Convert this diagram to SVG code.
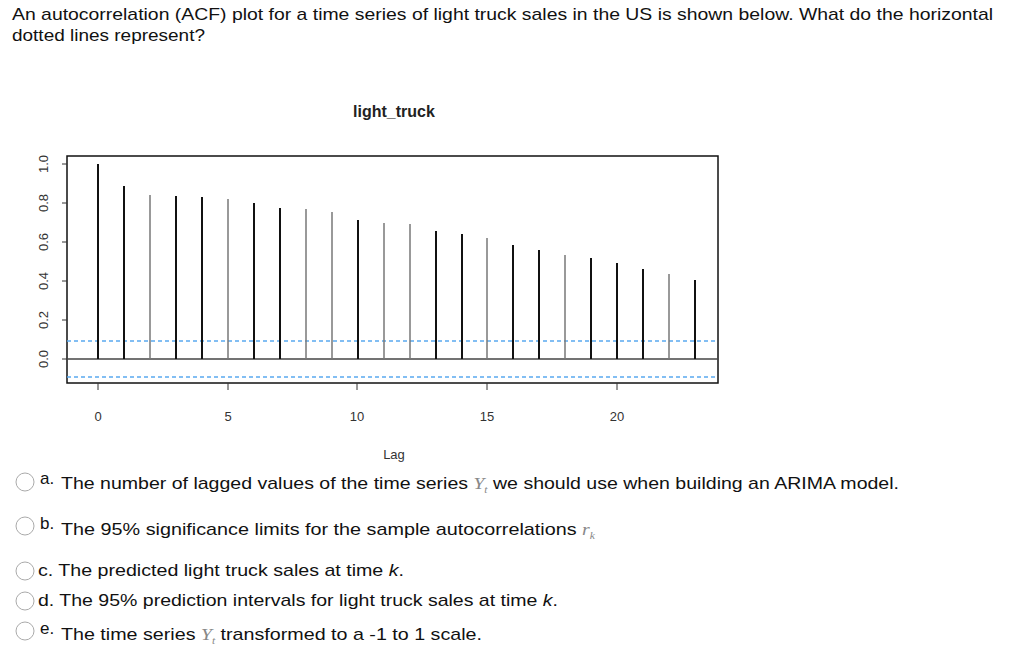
<svg xmlns="http://www.w3.org/2000/svg" width="1024" height="655" viewBox="0 0 1024 655">
<style>
.q{font-family:"Liberation Sans",Arial,sans-serif;font-size:17px;fill:#111}
.ax{font-family:"Liberation Sans",Arial,sans-serif;font-size:13px;fill:#333}
.bar{stroke:#111;stroke-width:2}
.bar2{stroke:#777;stroke-width:1.5}
.ci{stroke:#5aa9f0;stroke-width:1.5;stroke-dasharray:4 3}
.rad{fill:#fff;stroke:#aaa;stroke-width:1}
</style>
<rect width="1024" height="655" fill="#fff"/>
<text class="q" x="12" y="20" textLength="981" lengthAdjust="spacingAndGlyphs">An autocorrelation (ACF) plot for a time series of light truck sales in the US is shown below. What do the horizontal</text>
<text class="q" x="12" y="41" textLength="193" lengthAdjust="spacingAndGlyphs">dotted lines represent?</text>
<g id="plot">
<text x="394" y="117" text-anchor="middle" font-family="Liberation Sans,Arial,sans-serif" font-size="16" font-weight="bold" fill="#222">light_truck</text>
<rect x="67" y="156" width="651" height="227" fill="none" stroke="#111" stroke-width="1.5"/>
<g stroke="#333">
<line x1="62" y1="359" x2="67" y2="359"/><line x1="62" y1="320" x2="67" y2="320"/><line x1="62" y1="281" x2="67" y2="281"/><line x1="62" y1="242" x2="67" y2="242"/><line x1="62" y1="203" x2="67" y2="203"/><line x1="62" y1="164" x2="67" y2="164"/>
<line x1="98" y1="383" x2="98" y2="390"/><line x1="228" y1="383" x2="228" y2="390"/><line x1="357" y1="383" x2="357" y2="390"/><line x1="487" y1="383" x2="487" y2="390"/><line x1="617" y1="383" x2="617" y2="390"/>
</g>
<g class="ax" text-anchor="middle">
<text transform="translate(48,359) rotate(-90)">0.0</text>
<text transform="translate(48,320) rotate(-90)">0.2</text>
<text transform="translate(48,281) rotate(-90)">0.4</text>
<text transform="translate(48,242) rotate(-90)">0.6</text>
<text transform="translate(48,203) rotate(-90)">0.8</text>
<text transform="translate(48,164) rotate(-90)">1.0</text>
<text x="98" y="421">0</text><text x="228" y="421">5</text><text x="357" y="421">10</text><text x="487" y="421">15</text><text x="617" y="421">20</text>
<text x="394" y="459">Lag</text>
</g>
<line x1="67" y1="359" x2="718" y2="359" stroke="#444" stroke-width="1.5"/>
<line class="ci" x1="67" y1="341" x2="718" y2="341"/>
<line class="ci" x1="67" y1="377" x2="718" y2="377"/>
<g class="bar">
<line x1="98" y1="359" x2="98" y2="164"/><line x1="124" y1="359" x2="124" y2="186"/><line x1="176" y1="359" x2="176" y2="196"/><line x1="202" y1="359" x2="202" y2="197"/><line x1="254" y1="359" x2="254" y2="203"/><line x1="280" y1="359" x2="280" y2="208"/><line x1="358" y1="359" x2="358" y2="220"/><line x1="436" y1="359" x2="436" y2="231"/><line x1="462" y1="359" x2="462" y2="234"/><line x1="513" y1="359" x2="513" y2="245"/><line x1="539" y1="359" x2="539" y2="250"/><line x1="591" y1="359" x2="591" y2="258"/><line x1="617" y1="359" x2="617" y2="263"/><line x1="643" y1="359" x2="643" y2="269"/><line x1="695" y1="359" x2="695" y2="280"/>
</g>
<g class="bar2">
<line x1="150" y1="359" x2="150" y2="195"/><line x1="228" y1="359" x2="228" y2="199"/><line x1="306" y1="359" x2="306" y2="209"/><line x1="332" y1="359" x2="332" y2="212"/><line x1="384" y1="359" x2="384" y2="223"/><line x1="410" y1="359" x2="410" y2="224"/><line x1="487" y1="359" x2="487" y2="238"/><line x1="565" y1="359" x2="565" y2="255"/><line x1="669" y1="359" x2="669" y2="274"/>
</g>
</g>
<g id="options">
<circle class="rad" cx="25" cy="482" r="9"/><text class="q" x="40" y="484" font-size="16">a.</text><text class="q" x="61" y="489" textLength="838" lengthAdjust="spacingAndGlyphs">The number of lagged values of the time series <tspan font-family="Liberation Serif,serif" font-style="italic" fill="#888">Y<tspan font-size="10" dy="4">t</tspan></tspan><tspan dy="-4"> we should use when building an ARIMA model.</tspan></text>
<circle class="rad" cx="25" cy="526" r="9"/><text class="q" x="40" y="529" font-size="16">b.</text><text class="q" x="61" y="535" textLength="534" lengthAdjust="spacingAndGlyphs">The 95% significance limits for the sample autocorrelations <tspan font-family="Liberation Serif,serif" font-style="italic" fill="#888">r<tspan font-size="10" dy="4">k</tspan></tspan></text>
<circle class="rad" cx="25" cy="571" r="9"/><text class="q" x="38" y="576" textLength="366" lengthAdjust="spacingAndGlyphs">c. The predicted light truck sales at time <tspan font-style="italic">k</tspan>.</text>
<circle class="rad" cx="25" cy="601" r="9"/><text class="q" x="38" y="606" textLength="520" lengthAdjust="spacingAndGlyphs">d. The 95% prediction intervals for light truck sales at time <tspan font-style="italic">k</tspan>.</text>
<circle class="rad" cx="25" cy="631" r="9"/><text class="q" x="40" y="634" font-size="16">e.</text><text class="q" x="61" y="640" textLength="421" lengthAdjust="spacingAndGlyphs">The time series <tspan font-family="Liberation Serif,serif" font-style="italic" fill="#888">Y<tspan font-size="10" dy="4">t</tspan></tspan><tspan dy="-4"> transformed to a -1 to 1 scale.</tspan></text>
</g>
</svg>
